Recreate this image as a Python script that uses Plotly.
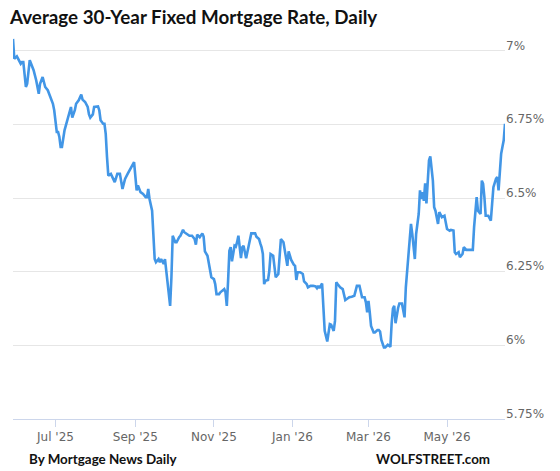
import plotly.graph_objects as go

dates = [
    "2025-05-29", "2025-05-30", "2025-06-01", "2025-06-02", "2025-06-04", "2025-06-05", "2025-06-06",
    "2025-06-08", "2025-06-09", "2025-06-11", "2025-06-12", "2025-06-14", "2025-06-16", "2025-06-18",
    "2025-06-19", "2025-06-21", "2025-06-23", "2025-06-25", "2025-06-27", "2025-06-29", "2025-06-30",
    "2025-07-01", "2025-07-02", "2025-07-03", "2025-07-04", "2025-07-05", "2025-07-06", "2025-07-08",
    "2025-07-09", "2025-07-11", "2025-07-13", "2025-07-14", "2025-07-16", "2025-07-17", "2025-07-19",
    "2025-07-21", "2025-07-22", "2025-07-24", "2025-07-26", "2025-07-27", "2025-07-28", "2025-07-30",
    "2025-07-31", "2025-08-03", "2025-08-04", "2025-08-05", "2025-08-07", "2025-08-08", "2025-08-09",
    "2025-08-10", "2025-08-11", "2025-08-13", "2025-08-14", "2025-08-16", "2025-08-18", "2025-08-20",
    "2025-08-22", "2025-08-24", "2025-08-26", "2025-08-28", "2025-08-30", "2025-08-31", "2025-09-02",
    "2025-09-03", "2025-09-05", "2025-09-07", "2025-09-09", "2025-09-10", "2025-09-11", "2025-09-12",
    "2025-09-14", "2025-09-15", "2025-09-16", "2025-09-17", "2025-09-19", "2025-09-20", "2025-09-21",
    "2025-09-23", "2025-09-24", "2025-09-25", "2025-09-27", "2025-09-28", "2025-09-29", "2025-09-30",
    "2025-10-02", "2025-10-03", "2025-10-05", "2025-10-06", "2025-10-08", "2025-10-09", "2025-10-11",
    "2025-10-13", "2025-10-15", "2025-10-17", "2025-10-18", "2025-10-19", "2025-10-21", "2025-10-23",
    "2025-10-24", "2025-10-25", "2025-10-27", "2025-10-28", "2025-10-30", "2025-11-01", "2025-11-02",
    "2025-11-03", "2025-11-05", "2025-11-06", "2025-11-08", "2025-11-09", "2025-11-10", "2025-11-11",
    "2025-11-12", "2025-11-13", "2025-11-14", "2025-11-15", "2025-11-17", "2025-11-18", "2025-11-19",
    "2025-11-20", "2025-11-22", "2025-11-23", "2025-11-24", "2025-11-26", "2025-11-28", "2025-11-30",
    "2025-12-01", "2025-12-03", "2025-12-04", "2025-12-06", "2025-12-07", "2025-12-08", "2025-12-09",
    "2025-12-10", "2025-12-11", "2025-12-13", "2025-12-14", "2025-12-15", "2025-12-17", "2025-12-18",
    "2025-12-19", "2025-12-21", "2025-12-22", "2025-12-23", "2025-12-25", "2025-12-26", "2025-12-28",
    "2025-12-29", "2025-12-31", "2026-01-02", "2026-01-03", "2026-01-04", "2026-01-05", "2026-01-07",
    "2026-01-09", "2026-01-10", "2026-01-12", "2026-01-13", "2026-01-15", "2026-01-17", "2026-01-19",
    "2026-01-20", "2026-01-21", "2026-01-22", "2026-01-23", "2026-01-24", "2026-01-25", "2026-01-26",
    "2026-01-28", "2026-01-29", "2026-01-30", "2026-01-31", "2026-02-02", "2026-02-03", "2026-02-04",
    "2026-02-05", "2026-02-07", "2026-02-09", "2026-02-10", "2026-02-11", "2026-02-13", "2026-02-14",
    "2026-02-16", "2026-02-18", "2026-02-19", "2026-02-20", "2026-02-22", "2026-02-23", "2026-02-24",
    "2026-02-26", "2026-02-27", "2026-02-28", "2026-03-01", "2026-03-02", "2026-03-03", "2026-03-05",
    "2026-03-06", "2026-03-08", "2026-03-09", "2026-03-10", "2026-03-11", "2026-03-13", "2026-03-14",
    "2026-03-16", "2026-03-17", "2026-03-18", "2026-03-19", "2026-03-20", "2026-03-21", "2026-03-22",
    "2026-03-24", "2026-03-25", "2026-03-27", "2026-03-29", "2026-03-30", "2026-03-31", "2026-04-01",
    "2026-04-03", "2026-04-04", "2026-04-06", "2026-04-07", "2026-04-09", "2026-04-10", "2026-04-11",
    "2026-04-12", "2026-04-13", "2026-04-14", "2026-04-15", "2026-04-17", "2026-04-18", "2026-04-20",
    "2026-04-21", "2026-04-22", "2026-04-24", "2026-04-25", "2026-04-27", "2026-04-29", "2026-04-30",
    "2026-05-01", "2026-05-03", "2026-05-04", "2026-05-06", "2026-05-07", "2026-05-08", "2026-05-10",
    "2026-05-11", "2026-05-13", "2026-05-14", "2026-05-16", "2026-05-17", "2026-05-19", "2026-05-21",
    "2026-05-22", "2026-05-24", "2026-05-25", "2026-05-27", "2026-05-28", "2026-05-29", "2026-05-30",
    "2026-05-31", "2026-06-02", "2026-06-04", "2026-06-05", "2026-06-06", "2026-06-08", "2026-06-09",
    "2026-06-10", "2026-06-11", "2026-06-12", "2026-06-13", "2026-06-14", "2026-06-15",
]

rates = [
    7.04, 6.973, 6.981, 6.973, 6.956, 6.962, 6.962,
    6.877, 6.888, 6.968, 6.956, 6.934, 6.900, 6.854,
    6.888, 6.911, 6.877, 6.866, 6.843, 6.820, 6.798,
    6.764, 6.724, 6.724, 6.707, 6.673, 6.673, 6.730,
    6.747, 6.781, 6.809, 6.773, 6.798, 6.820, 6.832,
    6.851, 6.834, 6.826, 6.809, 6.784, 6.773, 6.784,
    6.809, 6.811, 6.798, 6.764, 6.752, 6.752, 6.718,
    6.639, 6.576, 6.582, 6.573, 6.554, 6.582, 6.582,
    6.531, 6.565, 6.582, 6.599, 6.611, 6.622, 6.526,
    6.543, 6.520, 6.514, 6.503, 6.503, 6.531, 6.497,
    6.457, 6.378, 6.293, 6.282, 6.293, 6.282, 6.293,
    6.276, 6.293, 6.253, 6.174, 6.134, 6.231, 6.372,
    6.350, 6.350, 6.367, 6.372, 6.392, 6.384, 6.378,
    6.372, 6.372, 6.361, 6.342, 6.376, 6.367, 6.380,
    6.369, 6.319, 6.304, 6.276, 6.231, 6.225, 6.208,
    6.174, 6.174, 6.180, 6.189, 6.191, 6.180, 6.134,
    6.219, 6.321, 6.333, 6.285, 6.338, 6.335, 6.350,
    6.372, 6.296, 6.333, 6.338, 6.296, 6.338, 6.380,
    6.380, 6.380, 6.369, 6.361, 6.346, 6.333, 6.310,
    6.208, 6.219, 6.222, 6.253, 6.310, 6.304, 6.270,
    6.231, 6.242, 6.310, 6.361, 6.350, 6.321, 6.270,
    6.319, 6.290, 6.274, 6.270, 6.222, 6.248, 6.248,
    6.242, 6.217, 6.208, 6.197, 6.202, 6.202, 6.200,
    6.194, 6.202, 6.194, 6.202, 6.210, 6.129, 6.049,
    6.013, 6.049, 6.072, 6.070, 6.049, 6.083, 6.214,
    6.208, 6.197, 6.191, 6.174, 6.154, 6.160, 6.163,
    6.165, 6.168, 6.185, 6.202, 6.202, 6.185, 6.163,
    6.163, 6.146, 6.112, 6.151, 6.112, 6.066, 6.044,
    6.044, 6.052, 6.052, 6.047, 6.018, 5.993, 5.993,
    6.002, 5.998, 5.995, 6.075, 6.125, 6.134, 6.075,
    6.127, 6.142, 6.142, 6.095, 6.197, 6.260, 6.300,
    6.412, 6.378, 6.293, 6.378, 6.446, 6.526, 6.497,
    6.520, 6.491, 6.550, 6.482, 6.628, 6.641, 6.559,
    6.469, 6.457, 6.412, 6.452, 6.435, 6.440, 6.418,
    6.395, 6.389, 6.392, 6.390, 6.316, 6.310, 6.316,
    6.299, 6.310, 6.333, 6.324, 6.324, 6.324, 6.324,
    6.401, 6.503, 6.457, 6.446, 6.559, 6.548, 6.503,
    6.440, 6.440, 6.423, 6.480, 6.537, 6.565, 6.571,
    6.526, 6.593, 6.650, 6.673, 6.696, 6.752,
]

x_tick_vals = ["2025-07-01", "2025-09-01", "2025-11-01", "2026-01-01", "2026-03-01", "2026-05-01"]
x_tick_text = ["Jul '25", "Sep '25", "Nov '25", "Jan '26", "Mar '26", "May '26"]
y_tick_vals = [5.75, 6.0, 6.25, 6.5, 6.75, 7.0]
y_tick_text = ["5.75%", "6%", "6.25%", "6.5%", "6.75%", "7%"]

title_text = "Average 30-Year Fixed Mortgage Rate, Daily"
source_text = "By Mortgage News Daily"
brand_text = "WOLFSTREET.com"

fig = go.Figure()
fig.add_trace(go.Scatter(
    x=dates, y=rates, mode="lines",
    line=dict(color="#4296e6", width=2.6),
    hoverinfo="skip", showlegend=False,
))

tick_font = dict(family="DejaVu Sans", size=12, color="#666666")

fig.update_layout(
    width=560, height=471,
    margin=dict(l=13, r=55, t=36, b=52),
    paper_bgcolor="white", plot_bgcolor="white",
    title=dict(
        text="<b>" + title_text + "</b>",
        x=10 / 560, xanchor="left", xref="container",
        y=1 - 17.5 / 471, yanchor="middle", yref="container",
        font=dict(family="Lato", size=18.8, color="#111111"),
    ),
    xaxis=dict(
        type="date",
        range=[dates[0], dates[-1]],
        tickmode="array", tickvals=x_tick_vals, ticktext=x_tick_text,
        showgrid=False, zeroline=False,
        showline=True, linecolor="#ccd6eb", linewidth=1,
        ticks="outside", ticklen=7, tickcolor="#ccd6eb", tickwidth=1,
        tickfont=tick_font,
    ),
    yaxis=dict(
        range=[5.75, 7.05], side="right",
        tickmode="array", tickvals=y_tick_vals, ticktext=y_tick_text,
        showgrid=True, gridcolor="#e6e6e6", gridwidth=1,
        zeroline=False, showline=False, ticks="",
        ticklabelposition="outside top", ticklabelshift=3,
        tickfont=tick_font,
    ),
    annotations=[
        dict(text="<b>" + source_text + "</b>", xref="paper", yref="paper",
             x=(27 - 13) / 492, y=(419 - 459) / 383, xanchor="left", yanchor="middle",
             showarrow=False, font=dict(family="Lato", size=13.4, color="#111111")),
        dict(text="<b>" + brand_text + "</b>", xref="paper", yref="paper",
             x=(492 - 13) / 492, y=(419 - 459) / 383, xanchor="right", yanchor="middle",
             showarrow=False, font=dict(family="Lato", size=13.4, color="#111111")),
    ],
)

fig.write_html("out.html")
